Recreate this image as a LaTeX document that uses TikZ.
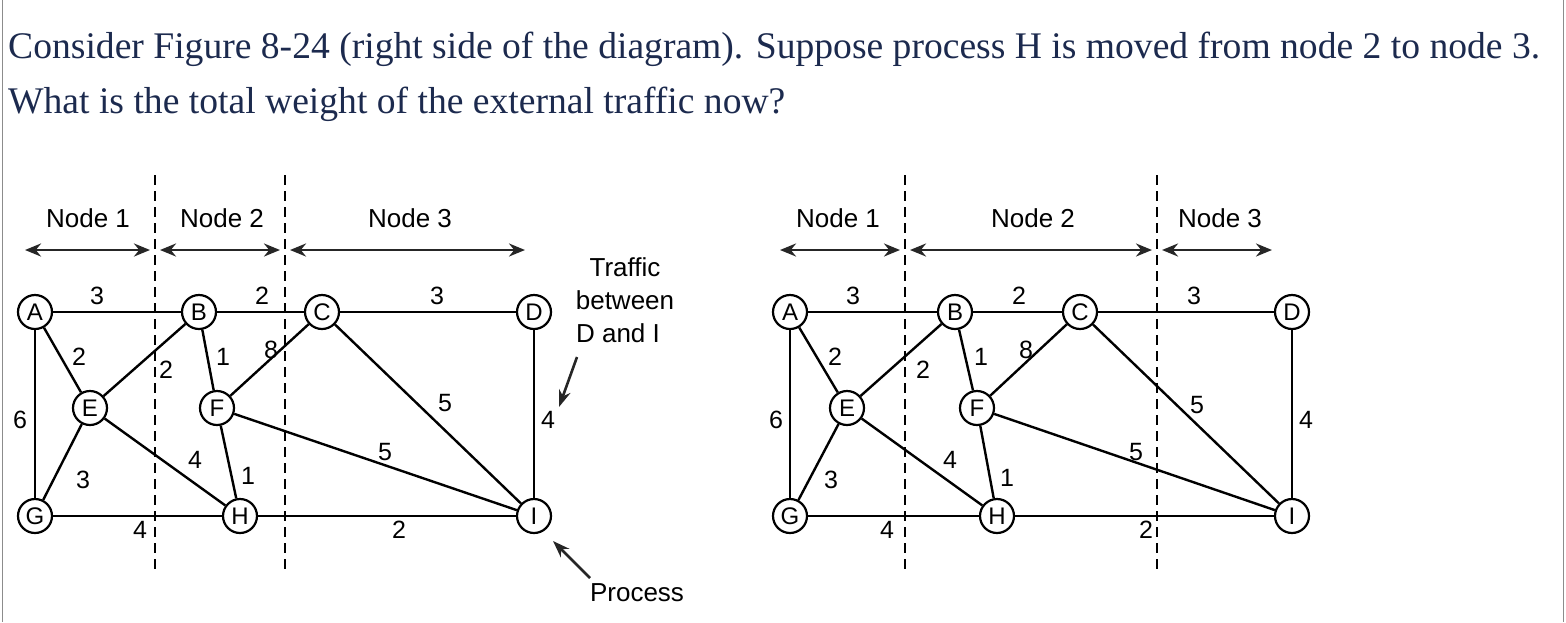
\documentclass[tikz,border=0pt]{standalone}
\usepackage{fontspec}
\setmainfont{Liberation Serif}
\newfontfamily\hv{Liberation Sans}
\usetikzlibrary{arrows.meta}
\definecolor{navy}{RGB}{28,42,78}
\begin{document}
\begin{tikzpicture}[x=1pt,y=-1pt,
  vtx/.style={circle,draw,line width=2.2pt,fill=white,minimum size=34pt,inner sep=0pt,font=\hv\fontsize{24}{24}\selectfont},
  edge/.style={line width=2.4pt},
  wt/.style={font=\hv\fontsize{25}{25}\selectfont,inner sep=0pt},
  lab/.style={font=\hv\fontsize{26}{26}\selectfont,inner sep=0pt},
  part/.style={line width=2.2pt,dash pattern=on 10pt off 6pt},
  span/.style={{Stealth[length=16pt,width=13pt]}-{Stealth[length=16pt,width=13pt]},line width=2.6pt,color=black!85},
  pt/.style={-{Stealth[length=17pt,width=12pt]},line width=2.6pt,color=black!85}]
\useasboundingbox (0,0) rectangle (1566,622);
\draw[black!45,line width=1pt] (2,0) -- (2,622) (1563,0)--(1563,622);
\node[anchor=base west,inner sep=0pt,text=navy,font=\fontsize{37.6}{37.6}\selectfont] (t1) at (8,58) {Consider Figure 8-24 (right side of the diagram). Suppose process H is moved from node 2 to node 3.};
\node[anchor=base west,inner sep=0pt,text=navy,font=\fontsize{37.6}{37.6}\selectfont] (t2) at (8,113) {What is the total weight of the external traffic now?};

% ---------- left ----------
\coordinate (l1t) at (155,175); \coordinate (l1b) at (155,575);
\coordinate (l2t) at (285,175); \coordinate (l2b) at (285,575);
\draw[part] (l1t)--(l1b); \draw[part] (l2t)--(l2b);
\coordinate (la1) at (25,250); \coordinate (la2) at (150,250);
\coordinate (la3) at (160,250); \coordinate (la4) at (280,250);
\coordinate (la5) at (290,250); \coordinate (la6) at (525,250);
\draw[span] (la1)--(la2); \draw[span] (la3)--(la4); \draw[span] (la5)--(la6);
\node[lab] (ln1) at (88,218) {Node 1};
\node[lab] (ln2) at (222,218) {Node 2};
\node[lab] (ln3) at (410,218) {Node 3};
\node[vtx] (A) at (35,312) {A}; \node[vtx] (B) at (199,312) {B};
\node[vtx] (C) at (322,312) {C}; \node[vtx] (D) at (534,312) {D};
\node[vtx] (E) at (90,408) {E}; \node[vtx] (F) at (217,408) {F};
\node[vtx] (G) at (35,516) {G}; \node[vtx] (H) at (240,516) {H};
\node[vtx] (I) at (534,516) {I};
\draw[edge] (A)--(B); \draw[edge] (B)--(C); \draw[edge] (C)--(D);
\draw[edge] (A)--(E); \draw[edge] (A)--(G); \draw[edge] (B)--(E);
\draw[edge] (B)--(F); \draw[edge] (C)--(F); \draw[edge] (C)--(I);
\draw[edge] (D)--(I); \draw[edge] (E)--(G); \draw[edge] (E)--(H);
\draw[edge] (F)--(H); \draw[edge] (F)--(I); \draw[edge] (G)--(H);
\draw[edge] (H)--(I);
\node[wt] (w1) at (97,296) {3}; \node[wt] (w2) at (262,296) {2};
\node[wt] (w3) at (437,296) {3}; \node[wt] (w4) at (79,357) {2};
\node[wt] (w5) at (166,370) {2}; \node[wt] (w6) at (223,357) {1};
\node[wt] (w7) at (271,350) {8}; \node[wt] (w8) at (445,403) {5};
\node[wt] (w9) at (20,420) {6}; \node[wt] (w10) at (548,420) {4};
\node[wt] (w11) at (385,452) {5}; \node[wt] (w12) at (195,460) {4};
\node[wt] (w13) at (248,476) {1}; \node[wt] (w14) at (83,480) {3};
\node[wt] (w15) at (140,530) {4}; \node[wt] (w16) at (399,530) {2};
\node[lab] (tr1) at (625,267) {Traffic};
\node[lab] (tr2) at (625,300) {between};
\node[lab] (tr3) at (618,333) {D and I};
\node[lab] (pr) at (637,593) {Process};
\coordinate (a1s) at (577,357); \coordinate (a1e) at (559,407);
\coordinate (a2s) at (590,578); \coordinate (a2e) at (553,541);
\draw[pt] (a1s)--(a1e); \draw[pt] (a2s)--(a2e);

% ---------- right ----------
\coordinate (r1t) at (905,175); \coordinate (r1b) at (905,575);
\coordinate (r2t) at (1157,175); \coordinate (r2b) at (1157,575);
\draw[part] (r1t)--(r1b); \draw[part] (r2t)--(r2b);
\coordinate (ra1) at (780,250); \coordinate (ra2) at (900,250);
\coordinate (ra3) at (910,250); \coordinate (ra4) at (1152,250);
\coordinate (ra5) at (1162,250); \coordinate (ra6) at (1272,250);
\draw[span] (ra1)--(ra2); \draw[span] (ra3)--(ra4); \draw[span] (ra5)--(ra6);
\node[lab] (rn1) at (838,218) {Node 1};
\node[lab] (rn2) at (1033,218) {Node 2};
\node[lab] (rn3) at (1220,218) {Node 3};
\node[vtx] (A2) at (790,312) {A}; \node[vtx] (B2) at (955,312) {B};
\node[vtx] (C2) at (1080,312) {C}; \node[vtx] (D2) at (1292,312) {D};
\node[vtx] (E2) at (847,408) {E}; \node[vtx] (F2) at (977,408) {F};
\node[vtx] (G2) at (790,516) {G}; \node[vtx] (H2) at (997,516) {H};
\node[vtx] (I2) at (1292,516) {I};
\draw[edge] (A2)--(B2); \draw[edge] (B2)--(C2); \draw[edge] (C2)--(D2);
\draw[edge] (A2)--(E2); \draw[edge] (A2)--(G2); \draw[edge] (B2)--(E2);
\draw[edge] (B2)--(F2); \draw[edge] (C2)--(F2); \draw[edge] (C2)--(I2);
\draw[edge] (D2)--(I2); \draw[edge] (E2)--(G2); \draw[edge] (E2)--(H2);
\draw[edge] (F2)--(H2); \draw[edge] (F2)--(I2); \draw[edge] (G2)--(H2);
\draw[edge] (H2)--(I2);
\node[wt] (v1) at (853,296) {3}; \node[wt] (v2) at (1019,296) {2};
\node[wt] (v3) at (1194,296) {3}; \node[wt] (v4) at (835,357) {2};
\node[wt] (v5) at (923,370) {2}; \node[wt] (v6) at (981,357) {1};
\node[wt] (v7) at (1026,350) {8}; \node[wt] (v8) at (1197,405) {5};
\node[wt] (v9) at (776,420) {6}; \node[wt] (v10) at (1306,420) {4};
\node[wt] (v11) at (1136,452) {5}; \node[wt] (v12) at (950,460) {4};
\node[wt] (v13) at (1007,478) {1}; \node[wt] (v14) at (831,480) {3};
\node[wt] (v15) at (887,530) {4}; \node[wt] (v16) at (1146,530) {2};
\end{tikzpicture}
\end{document}
